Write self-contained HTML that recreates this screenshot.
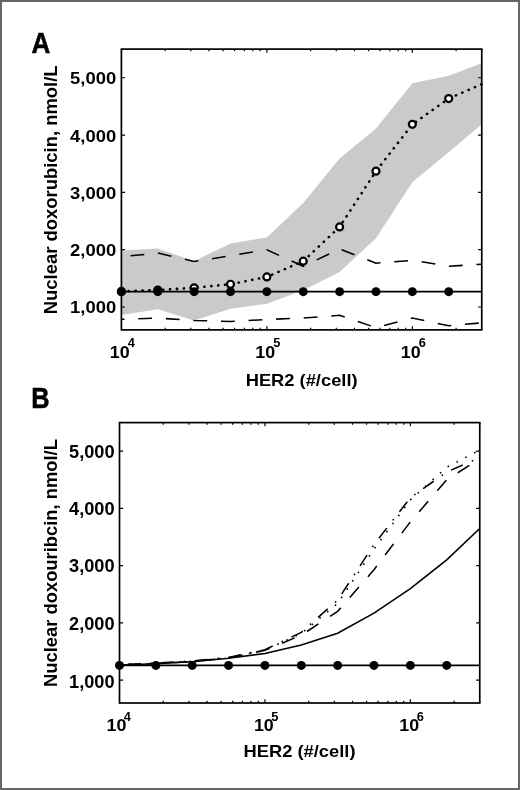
<!DOCTYPE html>
<html lang="en">
<head>
<meta charset="utf-8">
<title>Figure</title>
<style>
html,body{margin:0;padding:0;background:#fff;}
body{width:520px;height:790px;overflow:hidden;position:relative;}
.frame{position:absolute;left:0;top:0;width:520px;height:790px;box-sizing:border-box;border:2px solid #666;}
svg{position:absolute;left:0;top:0;display:block;}
svg text{font-family:"Liberation Sans", "Arimo", "Helvetica", "Arial", sans-serif;font-weight:bold;fill:#000;}
</style>
</head>
<body>
<svg width="520" height="790" viewBox="0 0 520 790">
<path d="M121.4 250.42 L157.77 248.53 L194.14 261.13 L230.5 243.48 L266.87 237.41 L303.24 203.08 L339.61 158.5 L375.97 128.41 L412.34 83.14 L448.71 75.86 L481.75 63.14 L481.75 124.34 L448.71 152.31 L412.34 182.34 L375.97 238.21 L339.61 272.02 L303.24 290.19 L266.87 303.83 L230.5 308.7 L194.14 320.39 L157.77 309.16 L121.4 315 Z" fill="#cacaca"/>
<path d="M121.4 256.78 L157.77 253 L194.14 261.48 L230.5 255.8 L266.87 249.79 L303.24 266.29 L339.61 248.93 L375.97 263.2 L412.34 260.33 L448.71 266.23 L481.75 264.23" fill="none" stroke="#000" stroke-width="1.55" stroke-dasharray="13.8 13.8" stroke-dashoffset="18.4"/>
<path d="M121.4 319.3 L157.77 318.09 L194.14 320.44 L230.5 321.48 L266.87 319.47 L303.24 318.09 L339.61 315.29 L375.97 327.61 L412.34 317.98 L448.71 325.77 L481.75 322.85" fill="none" stroke="#000" stroke-width="1.55" stroke-dasharray="13.8 13.8" stroke-dashoffset="10.7"/>
<path d="M121.4 291.39 L157.77 290.07 L194.14 287.78 L230.5 284.23 L266.87 276.89 L303.24 261.19 L339.61 226.92 L375.97 171.22 L412.34 124.34 L448.71 98.56 L481.75 84.23" fill="none" stroke="#000" stroke-width="2.6" stroke-linecap="round" stroke-dasharray="0.2 6.7" stroke-dashoffset="6.55"/>
<path d="M121.4 291.68H481.75" stroke="#000" stroke-width="1.7"/>
<circle cx="121.4" cy="291.39" r="3.5" fill="#fff" stroke="#000" stroke-width="2.2"/>
<circle cx="157.77" cy="290.07" r="3.5" fill="#fff" stroke="#000" stroke-width="2.2"/>
<circle cx="194.14" cy="287.78" r="3.5" fill="#fff" stroke="#000" stroke-width="2.2"/>
<circle cx="230.5" cy="284.23" r="3.5" fill="#fff" stroke="#000" stroke-width="2.2"/>
<circle cx="266.87" cy="276.89" r="3.5" fill="#fff" stroke="#000" stroke-width="2.2"/>
<circle cx="303.24" cy="261.19" r="3.5" fill="#fff" stroke="#000" stroke-width="2.2"/>
<circle cx="339.61" cy="226.92" r="3.5" fill="#fff" stroke="#000" stroke-width="2.2"/>
<circle cx="375.97" cy="171.22" r="3.5" fill="#fff" stroke="#000" stroke-width="2.2"/>
<circle cx="412.34" cy="124.34" r="3.5" fill="#fff" stroke="#000" stroke-width="2.2"/>
<circle cx="448.71" cy="98.56" r="3.5" fill="#fff" stroke="#000" stroke-width="2.2"/>
<circle cx="121.4" cy="291.68" r="4.5" fill="#000" stroke="none" stroke-width="0"/>
<circle cx="157.77" cy="291.68" r="4.5" fill="#000" stroke="none" stroke-width="0"/>
<circle cx="194.14" cy="291.68" r="4.5" fill="#000" stroke="none" stroke-width="0"/>
<circle cx="230.5" cy="291.68" r="4.5" fill="#000" stroke="none" stroke-width="0"/>
<circle cx="266.87" cy="291.68" r="4.5" fill="#000" stroke="none" stroke-width="0"/>
<circle cx="303.24" cy="291.68" r="4.5" fill="#000" stroke="none" stroke-width="0"/>
<circle cx="339.61" cy="291.68" r="4.5" fill="#000" stroke="none" stroke-width="0"/>
<circle cx="375.97" cy="291.68" r="4.5" fill="#000" stroke="none" stroke-width="0"/>
<circle cx="412.34" cy="291.68" r="4.5" fill="#000" stroke="none" stroke-width="0"/>
<circle cx="448.71" cy="291.68" r="4.5" fill="#000" stroke="none" stroke-width="0"/>
<rect x="121.4" y="49.1" width="360.35" height="280.8" fill="none" stroke="#000" stroke-width="1.7"/>
<path d="M121.4 306.98h3.65M481.75 306.98h-3.65M121.4 249.67h3.65M481.75 249.67h-3.65M121.4 192.37h3.65M481.75 192.37h-3.65M121.4 135.06h3.65M481.75 135.06h-3.65M121.4 77.75h3.65M481.75 77.75h-3.65M165.19 329.9v-2.25M165.19 49.1v2.25M190.81 329.9v-2.25M190.81 49.1v2.25M208.98 329.9v-2.25M208.98 49.1v2.25M223.08 329.9v-2.25M223.08 49.1v2.25M234.6 329.9v-2.25M234.6 49.1v2.25M244.34 329.9v-2.25M244.34 49.1v2.25M252.77 329.9v-2.25M252.77 49.1v2.25M260.21 329.9v-2.25M260.21 49.1v2.25M266.87 329.9v-3.65M266.87 49.1v3.65M310.66 329.9v-2.25M310.66 49.1v2.25M336.28 329.9v-2.25M336.28 49.1v2.25M354.45 329.9v-2.25M354.45 49.1v2.25M368.55 329.9v-2.25M368.55 49.1v2.25M380.07 329.9v-2.25M380.07 49.1v2.25M389.81 329.9v-2.25M389.81 49.1v2.25M398.24 329.9v-2.25M398.24 49.1v2.25M405.69 329.9v-2.25M405.69 49.1v2.25M412.34 329.9v-3.65M412.34 49.1v3.65M456.13 329.9v-2.25M456.13 49.1v2.25M481.75 329.9v-2.25M481.75 49.1v2.25" fill="none" stroke="#000" stroke-width="1.2"/>
<text transform="translate(116.2 313.48) scale(1.085 1)" text-anchor="end" font-size="17">1,000</text>
<text transform="translate(116.2 256.17) scale(1.085 1)" text-anchor="end" font-size="17">2,000</text>
<text transform="translate(116.2 199.47) scale(1.085 1)" text-anchor="end" font-size="17">3,000</text>
<text transform="translate(116.2 141.96) scale(1.085 1)" text-anchor="end" font-size="17">4,000</text>
<text transform="translate(116.2 83.85) scale(1.085 1)" text-anchor="end" font-size="17">5,000</text>
<text transform="translate(122.3 358.3) scale(1.05 1)" text-anchor="middle" font-size="17">10<tspan font-size="12.2" dy="-11.5" dx="-1.8">4</tspan></text>
<text transform="translate(267.77 358.3) scale(1.05 1)" text-anchor="middle" font-size="17">10<tspan font-size="12.2" dy="-11.5" dx="-1.8">5</tspan></text>
<text transform="translate(413.24 358.3) scale(1.05 1)" text-anchor="middle" font-size="17">10<tspan font-size="12.2" dy="-11.5" dx="-1.8">6</tspan></text>
<path d="M119.5 664.95 L155.86 663.8 L192.22 661.8 L228.57 658.19 L264.93 653.5 L301.29 645.09 L337.65 633.19 L374 613.16 L410.36 588.55 L446.72 559.94 L479.75 528.47" fill="none" stroke="#000" stroke-width="1.6"/>
<path d="M119.5 664.95 L155.86 663.69 L192.22 661.51 L228.57 657.79 L264.93 650.3 L301.29 635.19 L337.65 611.44 L374 569.67 L410.36 521.88 L446.72 479.82 L479.75 458.65" fill="none" stroke="#000" stroke-width="1.55" stroke-dasharray="13.8 13.8" stroke-dashoffset="0.6"/>
<path d="M119.5 664.55 L155.86 663.23 L192.22 660.94 L228.57 657.39 L264.93 649.78 L301.29 632.33 L337.65 600.17 L374 544.55 L410.36 497.74 L446.72 471.98 L479.75 457.68" fill="none" stroke="#000" stroke-width="1.55" stroke-dasharray="12.8 9.8 1.6 9.3" stroke-dashoffset="25.2"/>
<path d="M119.5 664.55 L155.86 663.34 L192.22 661.23 L228.57 657.68 L264.93 650.07 L301.29 633.47 L337.65 603.43 L374 549.07 L410.36 499.85 L446.72 467.24 L479.75 450.07" fill="none" stroke="#000" stroke-width="1.55" stroke-dasharray="1.6 8.4"/>
<path d="M119.5 665.4H479.75" stroke="#000" stroke-width="1.7"/>
<circle cx="119.5" cy="665.4" r="4.5" fill="#000" stroke="none" stroke-width="0"/>
<circle cx="155.86" cy="665.4" r="4.5" fill="#000" stroke="none" stroke-width="0"/>
<circle cx="192.22" cy="665.4" r="4.5" fill="#000" stroke="none" stroke-width="0"/>
<circle cx="228.57" cy="665.4" r="4.5" fill="#000" stroke="none" stroke-width="0"/>
<circle cx="264.93" cy="665.4" r="4.5" fill="#000" stroke="none" stroke-width="0"/>
<circle cx="301.29" cy="665.4" r="4.5" fill="#000" stroke="none" stroke-width="0"/>
<circle cx="337.65" cy="665.4" r="4.5" fill="#000" stroke="none" stroke-width="0"/>
<circle cx="374" cy="665.4" r="4.5" fill="#000" stroke="none" stroke-width="0"/>
<circle cx="410.36" cy="665.4" r="4.5" fill="#000" stroke="none" stroke-width="0"/>
<circle cx="446.72" cy="665.4" r="4.5" fill="#000" stroke="none" stroke-width="0"/>
<rect x="119.5" y="422.6" width="360.25" height="280.4" fill="none" stroke="#000" stroke-width="1.7"/>
<path d="M119.5 680.11h3.65M479.75 680.11h-3.65M119.5 622.89h3.65M479.75 622.89h-3.65M119.5 565.66h3.65M479.75 565.66h-3.65M119.5 508.44h3.65M479.75 508.44h-3.65M119.5 451.21h3.65M479.75 451.21h-3.65M163.28 703v-2.25M163.28 422.6v2.25M188.89 703v-2.25M188.89 422.6v2.25M207.06 703v-2.25M207.06 422.6v2.25M221.15 703v-2.25M221.15 422.6v2.25M232.67 703v-2.25M232.67 422.6v2.25M242.4 703v-2.25M242.4 422.6v2.25M250.84 703v-2.25M250.84 422.6v2.25M258.28 703v-2.25M258.28 422.6v2.25M264.93 703v-3.65M264.93 422.6v3.65M308.71 703v-2.25M308.71 422.6v2.25M334.32 703v-2.25M334.32 422.6v2.25M352.49 703v-2.25M352.49 422.6v2.25M366.58 703v-2.25M366.58 422.6v2.25M378.1 703v-2.25M378.1 422.6v2.25M387.83 703v-2.25M387.83 422.6v2.25M396.27 703v-2.25M396.27 422.6v2.25M403.71 703v-2.25M403.71 422.6v2.25M410.36 703v-3.65M410.36 422.6v3.65M454.14 703v-2.25M454.14 422.6v2.25M479.75 703v-2.25M479.75 422.6v2.25" fill="none" stroke="#000" stroke-width="1.2"/>
<text transform="translate(114.6 687.71) scale(1.035 1)" text-anchor="end" font-size="17.6">1,000</text>
<text transform="translate(114.6 629.69) scale(1.035 1)" text-anchor="end" font-size="17.6">2,000</text>
<text transform="translate(114.6 572.46) scale(1.035 1)" text-anchor="end" font-size="17.6">3,000</text>
<text transform="translate(114.6 515.24) scale(1.035 1)" text-anchor="end" font-size="17.6">4,000</text>
<text transform="translate(114.6 458.01) scale(1.035 1)" text-anchor="end" font-size="17.6">5,000</text>
<text transform="translate(118.7 731.3) scale(1.05 1)" text-anchor="middle" font-size="17">10<tspan font-size="12.2" dy="-10.8" dx="-2.4">4</tspan></text>
<text transform="translate(266.13 731.3) scale(1.05 1)" text-anchor="middle" font-size="17">10<tspan font-size="12.2" dy="-10.8" dx="-2.4">5</tspan></text>
<text transform="translate(411.56 731.3) scale(1.05 1)" text-anchor="middle" font-size="17">10<tspan font-size="12.2" dy="-10.8" dx="-2.4">6</tspan></text>
<text transform="translate(31.5 52.5) scale(0.9 1)" font-size="29" stroke="#000" stroke-width="0.5">A</text>
<text transform="translate(31.3 408.3) scale(0.875 1)" font-size="29" stroke="#000" stroke-width="0.5">B</text>
<text transform="translate(301.62 386.25) scale(1.11 1)" text-anchor="middle" font-size="16.5">HER2 (#/cell)</text>
<text transform="translate(299.52 756.9) scale(1.11 1)" text-anchor="middle" font-size="16.5">HER2 (#/cell)</text>
<text transform="translate(56.7 189.8) rotate(-90) scale(0.976 1)" text-anchor="middle" font-size="18.9">Nuclear doxorubicin, nmol/L</text>
<text transform="translate(56.9 563) rotate(-90) scale(0.972 1)" text-anchor="middle" font-size="18.9">Nuclear doxouribcin, nmol/L</text>
</svg>
<div class="frame"></div>
</body>
</html>
